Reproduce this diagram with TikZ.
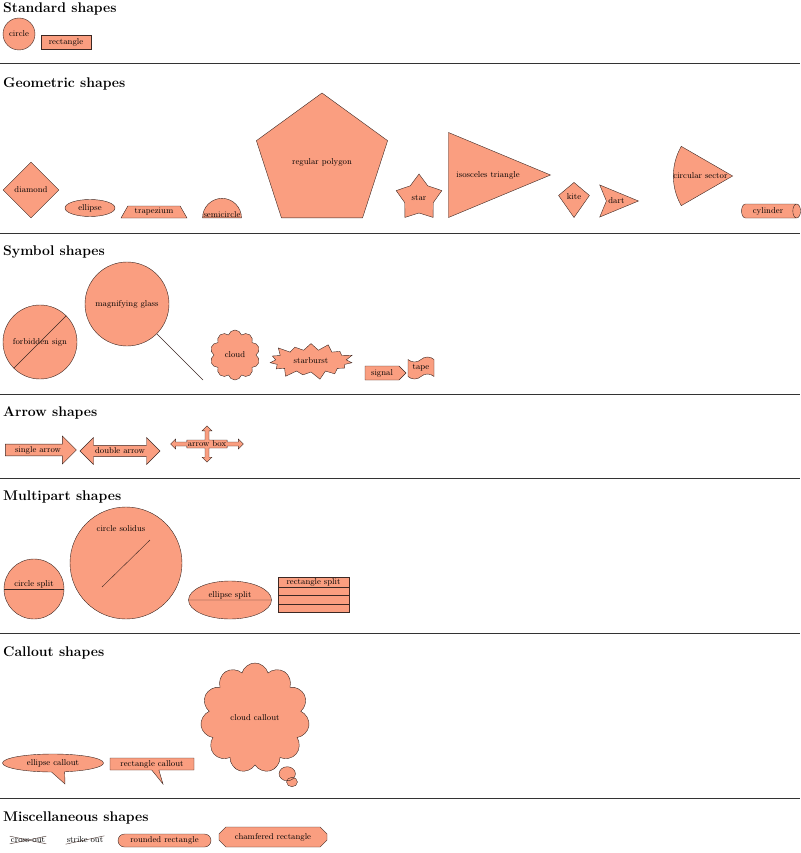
\documentclass[tikz,border=0pt]{standalone}
\usepackage{tikz}
\usetikzlibrary{shapes.geometric,shapes.symbols,shapes.arrows,shapes.multipart,shapes.callouts,shapes.misc}
\definecolor{salmonfill}{RGB}{250,158,128}
\definecolor{edgegray}{RGB}{60,40,35}
\tikzset{
  gallery/.style={draw=edgegray,fill=salmonfill,font=\fontsize{8.5}{10}\selectfont,inner sep=1pt},
  section title/.style={anchor=west,font=\fontsize{14}{16}\selectfont\bfseries,inner sep=0pt},
  section rule/.style={draw=black!80,line width=0.8pt}
}
\begin{document}
\begin{tikzpicture}[x=1pt,y=-1pt]
    \useasboundingbox (0,0) rectangle (800,853);
    % section titles and rules
    \node[section title] (tstd) at (3,9) {Standard shapes};
    \node[section title] (tgeo) at (3,84) {Geometric shapes};
    \node[section title] (tsym) at (3,252) {Symbol shapes};
    \node[section title] (tarr) at (3,413) {Arrow shapes};
    \node[section title] (tmul) at (3,497) {Multipart shapes};
    \node[section title] (tcal) at (3,653) {Callout shapes};
    \node[section title] (tmis) at (3,818) {Miscellaneous shapes};
    \foreach \y in {63,233,394,478,633,798}
      \draw[section rule] (0,\y) -- (800,\y);

    % standard
    \node[gallery,circle,minimum size=32pt] (circ) at (19,34) {circle};
    \node[gallery,rectangle,minimum width=50pt,minimum height=14pt] (rect) at (66,42) {rectangle};

    % geometric
    \node[gallery,diamond,minimum width=56pt,minimum height=56pt] (diam) at (31,190) {diamond};
    \node[gallery,ellipse,minimum width=50pt,minimum height=17pt] (ell) at (90,208) {ellipse};
    \node[gallery,trapezium,minimum width=66pt,minimum height=12pt,trapezium stretches] (trap) at (154,212) {trapezium};
    \node[gallery,semicircle,inner sep=0pt,anchor=chord center] (semi) at (222,218) {semicircle};
    \node[gallery,regular polygon,regular polygon sides=5,minimum size=138pt] (poly) at (322,162) {regular polygon};
    \node[gallery,star,star points=5,star point ratio=1.6,minimum size=48pt] (st) at (419,198) {star};
    \node[gallery,isosceles triangle,isosceles triangle stretches,minimum width=85pt,minimum height=102pt,anchor=apex] (iso) at (551,175) {isosceles triangle};
    \node[gallery,kite,kite vertex angles=100 and 70,inner sep=3pt] (kt) at (574,197) {kite};
    \node[gallery,dart,anchor=tip,inner sep=2pt] (dt) at (639,201) {dart};
    \node[gallery,circular sector,circular sector angle=60,inner sep=0pt,anchor=sector center] (sect) at (733,176) {circular sector};
    \node[gallery,cylinder,minimum width=14pt,minimum height=59pt,aspect=0.8] (cyl) at (768,211) {cylinder};

    % symbols
    \node[gallery,forbidden sign,minimum size=74pt] (forb) at (40,342) {forbidden sign};
    \node[gallery,circle,minimum size=84pt] (magn) at (127,304) {magnifying glass};
    \coordinate (handle) at (203,380);
    \draw[edgegray] (magn.-45) -- (handle);
    \node[gallery,cloud,cloud puffs=10,minimum width=50pt,minimum height=50pt] (cld) at (235,355) {cloud};
    \node[gallery,starburst,starburst points=15,starburst point height=9pt,minimum width=89pt,minimum height=40pt] (burst) at (311,361) {starburst};
    \node[gallery,signal,signal to=east,minimum width=41pt,minimum height=14pt] (sig) at (382,373) {signal};
    \node[gallery,tape,minimum width=26pt,minimum height=22pt] (tp) at (421,368) {tape};

    % arrows
    \node[gallery,single arrow,minimum height=71pt,minimum width=28pt,single arrow head extend=7pt] (sarr) at (38,450) {single arrow};
    \node[gallery,double arrow,minimum height=80pt,minimum width=27pt,double arrow head extend=6pt] (darr) at (120,451) {double arrow};
    \node[gallery,arrow box,arrow box arrows={north:14pt,south:14pt,east:16pt,west:16pt},arrow box head extend=3pt,arrow box shaft width=4pt] (abox) at (207,444) {arrow box};

    % multipart
    \node[gallery,circle split,minimum size=60pt] (csplit) at (34,589) {circle split\nodepart{lower}};
    \node[gallery,circle,minimum size=112pt] (csol) at (126,563) {};
    \node[font=\fontsize{8.5}{10}\selectfont,inner sep=0pt] (csoltext) at (121,529) {circle solidus};
    \draw[edgegray] (102,587) -- (150,540);
    \node[gallery,ellipse split,minimum width=83pt,minimum height=38pt] (esplit) at (230,600) {ellipse split\nodepart{lower}};
    \node[gallery,rectangle split,rectangle split parts=4,rectangle split empty part height=6pt,text width=69pt,align=center,anchor=north] (rsplit) at (313.5,577) {rectangle split};

    % callouts
    \node[gallery,ellipse callout,minimum width=101pt,minimum height=18pt,callout absolute pointer={(65,784)}] (ecall) at (53,763) {ellipse callout};
    \node[gallery,rectangle callout,minimum width=84pt,minimum height=12pt,callout absolute pointer={(163,784)}] (rcall) at (152,764) {rectangle callout};
    \node[gallery,cloud callout,cloud puffs=11,minimum width=109pt,minimum height=110pt,callout absolute pointer={(292,782)}] (ccall) at (255,718) {cloud callout};

    % misc
    \node[cross out,draw=edgegray,font=\fontsize{8.5}{10}\selectfont,inner sep=1pt] (xout) at (28,840) {cross out};
    \node[strike out,draw=edgegray,font=\fontsize{8.5}{10}\selectfont,inner sep=1pt] (sout) at (85,840) {strike out};
    \node[gallery,rounded rectangle,minimum width=95pt,minimum height=13pt] (rrect) at (164.5,840.5) {rounded rectangle};
    \node[gallery,chamfered rectangle,minimum width=108pt,minimum height=20pt,chamfered rectangle xsep=4pt] (crect) at (273,837) {chamfered rectangle};
\end{tikzpicture}
\end{document}
